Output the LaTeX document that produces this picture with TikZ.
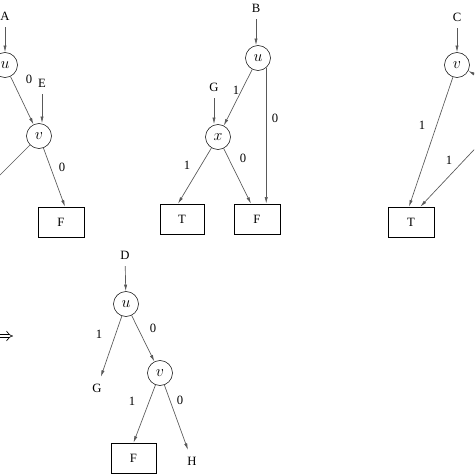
\documentclass[tikz,border=0pt]{standalone}
\usepackage{amssymb}
\usepackage{amsmath}
\usepackage{fontspec}
\setmainfont{Liberation Serif}
\usepackage{tikz}
\usetikzlibrary{shapes.geometric, arrows, arrows.meta}

\begin{document}
\begin{tikzpicture}[
            x=0.75pt, y=-0.75pt, % one unit is one pixel of the picture, y downwards
            every node/.style={font=\fontsize{9.5}{10}\selectfont}, % labels
            var/.style={circle, draw, line width=0.4pt, minimum size=18.75pt, inner sep=0pt, font=\fontsize{13}{14}\selectfont}, % decision nodes
            leaf/.style={rectangle, draw, line width=0.4pt, minimum width=34.5pt, minimum height=22.5pt}, % terminal boxes
            lbl/.style={inner sep=5pt}, % entry and exit labels
            edge/.style={draw=black!65, line width=0.5pt, -{Latex[length=5pt,width=2.4pt]}} % connectors
            ]
        \useasboundingbox (0,0) rectangle (474,474);
        \clip (0,0) rectangle (474,474);

            % first diagram, entries A and E
            \node[lbl] (A) at (5,16) {A};
            \node[var] (uA) at (5,65) {$u$};
            \node[lbl] (E) at (42,83) {E};
            \node[var] (vA) at (39,136) {$v$};
            \node[leaf] (FA) at (61,222) {F};
            \coordinate (vAout) at (-10,185);
            \draw[edge] (A) -- (uA);
            \draw[edge] (E) -- (E |- vA.north);
            \draw[edge] (uA) -- (vA);
            \draw[edge] (vA) -- (vAout);
            \draw[edge] (vA) -- ([xshift=3pt]FA.north);
            \node (lA1) at (29,79) {0};
            \node (lA2) at (62,167) {0};

            % second diagram, entries B and G
            \node[lbl] (B) at (256,8) {B};
            \node[var] (uB) at (258,58) {$u$};
            \node[lbl] (Gt) at (214,87) {G};
            \node[var] (xB) at (218,137) {$x$};
            \node[leaf, minimum width=33pt] (TB) at (182,219) {T};
            \node[leaf] (FB) at (257,219) {F};
            \draw[edge] (B) -- (B |- uB.north);
            \draw[edge] (Gt) -- (Gt |- xB.north);
            \draw[edge] (uB) -- (xB);
            \draw[edge] (uB.-50) -- (uB.-50 |- FB.north);
            \draw[edge] (xB) -- ([xshift=-3pt]TB.north);
            \draw[edge] (xB) -- ([xshift=-4.5pt]FB.north);
            \node (lB1) at (236,90) {1};
            \node (lB2) at (275,118) {0};
            \node (lB3) at (187,165) {1};
            \node (lB4) at (243,158) {0};

            % third diagram, entry C
            \node[lbl] (C) at (457,17) {C};
            \node[var] (vC) at (457,65) {$v$};
            \node[leaf] (TC) at (411,222) {T};
            \coordinate (cIn) at (486,137);
            \coordinate (cBack) at (495,85);
            \draw[edge] (C) -- (vC);
            \draw[edge] (cBack) -- (vC);
            \draw[edge] (vC) -- ([xshift=-1.5pt]TC.north);
            \draw[edge] (cIn) -- ([xshift=7pt]TC.north);
            \node (lC1) at (422,125) {1};
            \node (lC2) at (449,160) {1};

            % double arrow from the left, only its head shows
            \coordinate (implFrom) at (-30,336);
            \coordinate (implTo) at (13,336);
            \draw[double, double distance=2.2pt, line width=0.5pt, -implies] (implFrom) -- (implTo);

            % result, entry D
            \node[lbl] (D) at (125,255) {D};
            \node[var] (uD) at (126,304) {$u$};
            \node[var] (vD) at (160,373) {$v$};
            \node[lbl] (Gb) at (97,388) {G};
            \node[leaf, minimum width=33.75pt] (FD) at (133.5,458) {F};
            \node[lbl] (H) at (192,461) {H};
            \draw[edge] (D) -- (uD);
            \draw[edge] (uD) -- (Gb);
            \draw[edge] (uD) -- (vD);
            \draw[edge] (vD) -- (FD.north);
            \draw[edge] (vD) -- (H);
            \node (lD1) at (99,334) {1};
            \node (lD2) at (153,328) {0};
            \node (lD3) at (132,401) {1};
            \node (lD4) at (180,400) {0};

        \end{tikzpicture}
\end{document}
